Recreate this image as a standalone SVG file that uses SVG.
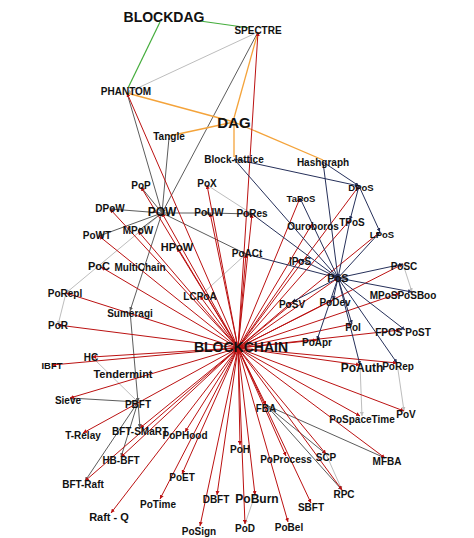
<svg xmlns="http://www.w3.org/2000/svg" width="474" height="538" viewBox="0 0 474 538">
<style>
text{font-family:"Liberation Sans",Arial,sans-serif;font-weight:bold;fill:#111;text-anchor:middle;dominant-baseline:central;font-size:10px}
line{fill:none;stroke-width:1}
.r{stroke:#bb1111;marker-end:url(#ar)}
.n{stroke:#26305a;marker-end:url(#an)}
.o{stroke:#f4a33a;stroke-width:1.3}
.g{stroke:#44ad3c;stroke-width:1.2}
.d{stroke:#5c5c5c;marker-end:url(#ad)}
.l{stroke:#bdbdbd;marker-end:url(#al)}
.s9{font-size:9.5px}.s11{font-size:11px}.s12{font-size:12px}.s13{font-size:13px}.s14{font-size:14px}.s15{font-size:15px}
</style>
<defs>
<marker id="ar" viewBox="0 0 10 10" refX="10" refY="5" markerWidth="4" markerHeight="4" markerUnits="userSpaceOnUse" orient="auto"><path d="M0,0L10,5L0,10z" fill="#bb1111"/></marker>
<marker id="an" viewBox="0 0 10 10" refX="10" refY="5" markerWidth="4" markerHeight="4" markerUnits="userSpaceOnUse" orient="auto"><path d="M0,0L10,5L0,10z" fill="#26305a"/></marker>
<marker id="ad" viewBox="0 0 10 10" refX="10" refY="5" markerWidth="4" markerHeight="4" markerUnits="userSpaceOnUse" orient="auto"><path d="M0,0L10,5L0,10z" fill="#5c5c5c"/></marker>
<marker id="al" viewBox="0 0 10 10" refX="10" refY="5" markerWidth="4" markerHeight="4" markerUnits="userSpaceOnUse" orient="auto"><path d="M0,0L10,5L0,10z" fill="#bdbdbd"/></marker>
</defs>
<rect width="474" height="538" fill="#fff"/>
<g id="connectors">
<line class="l" x1="258" y1="32" x2="127" y2="93"/>
<line class="l" x1="207" y1="185" x2="252" y2="214"/>
<line class="l" x1="246" y1="254" x2="200" y2="296"/>
<line class="l" x1="162" y1="213" x2="66" y2="293"/>
<line class="l" x1="66" y1="293" x2="58" y2="325"/>
<line class="l" x1="92" y1="357" x2="138" y2="402"/>
<line class="l" x1="255" y1="495" x2="245" y2="524"/>
<line class="l" x1="403" y1="264" x2="412" y2="292"/>
<line class="l" x1="360" y1="365" x2="362" y2="416"/>
<line class="l" x1="397" y1="363" x2="404" y2="411"/>
<line class="l" x1="326" y1="454" x2="342" y2="490"/>
<line class="d" x1="258" y1="32" x2="162" y2="213"/>
<line class="d" x1="127" y1="93" x2="162" y2="213"/>
<line class="d" x1="169" y1="138" x2="162" y2="213"/>
<line class="d" x1="162" y1="213" x2="141" y2="187"/>
<line class="d" x1="162" y1="213" x2="110" y2="209"/>
<line class="d" x1="162" y1="213" x2="210" y2="213"/>
<line class="d" x1="210" y1="213" x2="252" y2="214"/>
<line class="d" x1="162" y1="213" x2="138" y2="231"/>
<line class="d" x1="162" y1="213" x2="99" y2="236"/>
<line class="d" x1="162" y1="213" x2="130" y2="311"/>
<line class="d" x1="162" y1="213" x2="246" y2="254"/>
<line class="d" x1="130" y1="311" x2="138" y2="402"/>
<line class="d" x1="138" y1="402" x2="70" y2="398"/>
<line class="d" x1="138" y1="402" x2="140" y2="428"/>
<line class="d" x1="138" y1="402" x2="121" y2="457"/>
<line class="d" x1="138" y1="402" x2="85" y2="481"/>
<line class="d" x1="266" y1="405" x2="342" y2="490"/>
<line class="d" x1="266" y1="405" x2="385" y2="458"/>
<line class="d" x1="266" y1="405" x2="326" y2="454"/>
<line class="o" x1="127" y1="93" x2="234" y2="122"/>
<line class="o" x1="258" y1="32" x2="234" y2="118"/>
<line class="o" x1="234" y1="122" x2="169" y2="136"/>
<line class="o" x1="234" y1="122" x2="234" y2="157"/>
<line class="o" x1="234" y1="122" x2="323" y2="160"/>
<line class="g" x1="200" y1="21" x2="250" y2="28"/>
<line class="g" x1="160" y1="22" x2="128" y2="88"/>
<g id="red">
<line class="r" x1="238" y1="348" x2="258" y2="32"/>
<line class="r" x1="238" y1="348" x2="127" y2="93"/>
<line class="r" x1="238" y1="348" x2="141" y2="187"/>
<line class="r" x1="238" y1="348" x2="110" y2="209"/>
<line class="r" x1="238" y1="348" x2="162" y2="213"/>
<line class="r" x1="238" y1="348" x2="99" y2="236"/>
<line class="r" x1="238" y1="348" x2="138" y2="231"/>
<line class="r" x1="238" y1="348" x2="101" y2="267"/>
<line class="r" x1="238" y1="348" x2="177" y2="248"/>
<line class="r" x1="238" y1="348" x2="207" y2="185"/>
<line class="r" x1="238" y1="348" x2="210" y2="213"/>
<line class="r" x1="238" y1="348" x2="252" y2="214"/>
<line class="r" x1="238" y1="348" x2="246" y2="254"/>
<line class="r" x1="238" y1="348" x2="200" y2="296"/>
<line class="r" x1="238" y1="348" x2="66" y2="293"/>
<line class="r" x1="238" y1="348" x2="58" y2="325"/>
<line class="r" x1="238" y1="348" x2="52" y2="365"/>
<line class="r" x1="238" y1="348" x2="92" y2="357"/>
<line class="r" x1="238" y1="348" x2="70" y2="398"/>
<line class="r" x1="238" y1="348" x2="83" y2="433"/>
<line class="r" x1="238" y1="348" x2="140" y2="428"/>
<line class="r" x1="238" y1="348" x2="121" y2="457"/>
<line class="r" x1="238" y1="348" x2="85" y2="481"/>
<line class="r" x1="238" y1="348" x2="111" y2="513"/>
<line class="r" x1="238" y1="348" x2="185" y2="432"/>
<line class="r" x1="238" y1="348" x2="182" y2="474"/>
<line class="r" x1="238" y1="348" x2="160" y2="499"/>
<line class="r" x1="238" y1="348" x2="200" y2="526"/>
<line class="r" x1="238" y1="348" x2="217" y2="495"/>
<line class="r" x1="238" y1="348" x2="240" y2="445"/>
<line class="r" x1="238" y1="348" x2="245" y2="524"/>
<line class="r" x1="238" y1="348" x2="255" y2="495"/>
<line class="r" x1="238" y1="348" x2="288" y2="522"/>
<line class="r" x1="238" y1="348" x2="286" y2="456"/>
<line class="r" x1="238" y1="348" x2="311" y2="503"/>
<line class="r" x1="238" y1="348" x2="266" y2="405"/>
<line class="r" x1="238" y1="348" x2="326" y2="454"/>
<line class="r" x1="238" y1="348" x2="342" y2="490"/>
<line class="r" x1="238" y1="348" x2="385" y2="458"/>
<line class="r" x1="238" y1="348" x2="360" y2="416"/>
<line class="r" x1="238" y1="348" x2="404" y2="411"/>
<line class="r" x1="238" y1="348" x2="360" y2="365"/>
<line class="r" x1="238" y1="348" x2="397" y2="363"/>
<line class="r" x1="238" y1="348" x2="317" y2="340"/>
<line class="r" x1="238" y1="348" x2="352" y2="324"/>
<line class="r" x1="238" y1="348" x2="400" y2="330"/>
<line class="r" x1="238" y1="348" x2="400" y2="293"/>
<line class="r" x1="238" y1="348" x2="403" y2="264"/>
<line class="r" x1="238" y1="348" x2="292" y2="302"/>
<line class="r" x1="238" y1="348" x2="333" y2="300"/>
<line class="r" x1="238" y1="348" x2="338" y2="278"/>
<line class="r" x1="238" y1="348" x2="300" y2="259"/>
<line class="r" x1="238" y1="348" x2="380" y2="232"/>
<line class="r" x1="238" y1="348" x2="350" y2="220"/>
<line class="r" x1="238" y1="348" x2="300" y2="198"/>
<line class="r" x1="238" y1="348" x2="312" y2="224"/>
<line class="r" x1="238" y1="348" x2="359" y2="186"/>
</g>
<g id="navy">
<line class="n" x1="234" y1="159" x2="359" y2="186"/>
<line class="n" x1="234" y1="159" x2="338" y2="278"/>
<line class="n" x1="323" y1="162" x2="359" y2="186"/>
<line class="n" x1="323" y1="162" x2="338" y2="278"/>
<line class="n" x1="359" y1="186" x2="350" y2="220"/>
<line class="n" x1="359" y1="186" x2="380" y2="232"/>
<line class="n" x1="350" y1="220" x2="338" y2="278"/>
<line class="n" x1="338" y1="278" x2="300" y2="198"/>
<line class="n" x1="338" y1="278" x2="380" y2="232"/>
<line class="n" x1="338" y1="278" x2="300" y2="259"/>
<line class="n" x1="338" y1="278" x2="403" y2="264"/>
<line class="n" x1="338" y1="278" x2="412" y2="292"/>
<line class="n" x1="338" y1="278" x2="292" y2="302"/>
<line class="n" x1="338" y1="278" x2="333" y2="300"/>
<line class="n" x1="338" y1="278" x2="352" y2="324"/>
<line class="n" x1="338" y1="278" x2="405" y2="330"/>
<line class="n" x1="338" y1="278" x2="317" y2="340"/>
<line class="n" x1="338" y1="278" x2="360" y2="365"/>
<line class="n" x1="338" y1="278" x2="397" y2="363"/>
<line class="n" x1="252" y1="214" x2="338" y2="278"/>
<line class="n" x1="246" y1="254" x2="338" y2="278"/>
</g>
</g>
<g id="nodes">
<g id="BLOCKDAG"><text class="s14" x="164" y="17">BLOCKDAG</text></g>
<g id="SPECTRE"><text x="258" y="30">SPECTRE</text></g>
<g id="PHANTOM"><text x="126" y="91">PHANTOM</text></g>
<g id="DAG"><text class="s15" x="234" y="122">DAG</text></g>
<g id="Tangle"><text x="169" y="136">Tangle</text></g>
<g id="Block-lattice"><text x="234" y="159">Block-lattice</text></g>
<g id="Hashgraph"><text x="323" y="162">Hashgraph</text></g>
<g id="DPoS"><text class="s9" x="361" y="187">DPoS</text></g>
<g id="TaPoS"><text class="s9" x="301" y="198">TaPoS</text></g>
<g id="TPoS"><text x="352" y="222">TPoS</text></g>
<g id="Ouroboros"><text x="313" y="226">Ouroboros</text></g>
<g id="LPoS"><text class="s9" x="382" y="234">LPoS</text></g>
<g id="IPoS"><text x="300" y="261">IPoS</text></g>
<g id="PoSC"><text x="404" y="266">PoSC</text></g>
<g id="PoS"><text class="s11" x="338" y="278">PoS</text></g>
<g id="MPoSPoSBoo"><text x="403" y="295">MPoSPoSBoo</text></g>
<g id="PoSV"><text x="292" y="304">PoSV</text></g>
<g id="PoDev"><text x="335" y="302">PoDev</text></g>
<g id="PoI"><text x="353" y="327">PoI</text></g>
<g id="FPOS-PoST"><text x="403" y="332">FPOS PoST</text></g>
<g id="PoApr"><text x="317" y="342">PoApr</text></g>
<g id="PoAuth"><text class="s12" x="362" y="368">PoAuth</text></g>
<g id="PoRep"><text x="398" y="366">PoRep</text></g>
<g id="PoSpaceTime"><text x="362" y="419">PoSpaceTime</text></g>
<g id="PoV"><text x="406" y="414">PoV</text></g>
<g id="FBA"><text x="266" y="408">FBA</text></g>
<g id="SCP"><text x="326" y="457">SCP</text></g>
<g id="MFBA"><text x="387" y="461">MFBA</text></g>
<g id="RPC"><text x="344" y="494">RPC</text></g>
<g id="SBFT"><text x="311" y="507">SBFT</text></g>
<g id="PoProcess"><text x="286" y="459">PoProcess</text></g>
<g id="PoBel"><text x="289" y="527">PoBel</text></g>
<g id="PoBurn"><text class="s12" x="257" y="499">PoBurn</text></g>
<g id="PoD"><text x="245" y="528">PoD</text></g>
<g id="PoH"><text x="240" y="449">PoH</text></g>
<g id="DBFT"><text x="216" y="499">DBFT</text></g>
<g id="PoSign"><text x="199" y="531">PoSign</text></g>
<g id="PoTime"><text x="158" y="504">PoTime</text></g>
<g id="PoET"><text x="182" y="477">PoET</text></g>
<g id="Raft-Q"><text class="s11" x="109" y="517">Raft - Q</text></g>
<g id="BFT-Raft"><text x="83" y="484">BFT-Raft</text></g>
<g id="HB-BFT"><text x="121" y="460">HB-BFT</text></g>
<g id="T-Relay"><text x="83" y="435">T-Relay</text></g>
<g id="BFT-SMaRT"><text x="140" y="431">BFT-SMaRT</text></g>
<g id="PoPHood"><text x="185" y="435">PoPHood</text></g>
<g id="PBFT"><text x="138" y="404">PBFT</text></g>
<g id="Sieve"><text x="68" y="400">Sieve</text></g>
<g id="Tendermint"><text class="s11" x="123" y="374">Tendermint</text></g>
<g id="HC"><text x="91" y="357">HC</text></g>
<g id="IBFT"><text class="s9" x="52" y="365">IBFT</text></g>
<g id="PoR"><text x="58" y="325">PoR</text></g>
<g id="Sumeragi"><text x="130" y="313">Sumeragi</text></g>
<g id="PoRepl"><text x="65" y="293">PoRepl</text></g>
<g id="LCPoA"><text x="200" y="296">LCPoA</text></g>
<g id="PoC"><text class="s11" x="99" y="266">PoC</text></g>
<g id="MultiChain"><text x="140" y="267">MultiChain</text></g>
<g id="HPoW"><text class="s11" x="177" y="247">HPoW</text></g>
<g id="PoACt"><text x="247" y="253">PoACt</text></g>
<g id="PoWT"><text x="97" y="235">PoWT</text></g>
<g id="MPoW"><text x="138" y="230">MPoW</text></g>
<g id="DPoW"><text x="110" y="208">DPoW</text></g>
<g id="POW"><text class="s12" x="162" y="212">POW</text></g>
<g id="PoUW"><text x="209" y="212">PoUW</text></g>
<g id="PoRes"><text x="252" y="213">PoRes</text></g>
<g id="PoP"><text x="141" y="185">PoP</text></g>
<g id="PoX"><text x="207" y="183">PoX</text></g>
<g id="BLOCKCHAIN"><text class="s14" x="241" y="347">BLOCKCHAIN</text></g>
</g>
</svg>
